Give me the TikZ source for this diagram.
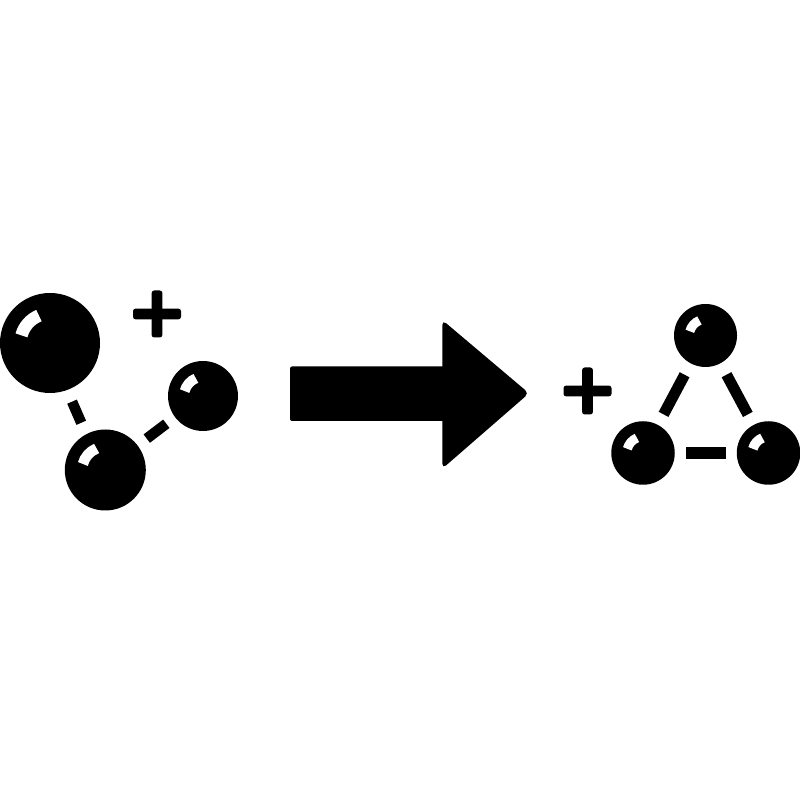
\documentclass[tikz,border=0pt]{standalone}
\usepackage{tikz}
\usetikzlibrary{arrows.meta}

\begin{document}
\begin{tikzpicture}[bond/.style={line width=1.05mm,black},plusbar/.style={rectangle,fill=black,rounded corners=0.025cm,inner sep=0,outer sep=0}]
            \tikzstyle{ball}=[circle,fill=black,inner sep=0,outer sep=0]
            \tikzstyle{glint}=[white,line cap=butt]
            \useasboundingbox (0,0) rectangle (8,8);
            % molecule on the left
            \node(big)[ball,minimum size=1cm] at (0.50,4.57){};
            \node(mid)[ball,minimum size=0.81cm] at (1.053,3.30){};
            \node(small)[ball,minimum size=0.70cm] at (2.03,4.04){};
            \draw[bond,transform canvas={xshift=-0.035cm},shorten <=0.14cm,shorten >=0.11cm] (big) -- (mid);
            \draw[bond,shorten <=0.115cm,shorten >=0.11cm] (mid) -- (small);
            % molecule on the right
            \node(top)[ball,minimum size=0.63cm] at (7.055,4.645){};
            \node(left)[ball,minimum size=0.635cm] at (6.43,3.47){};
            \node(right)[ball,minimum size=0.635cm] at (7.685,3.47){};
            \draw[bond,line width=1.1mm,shorten <=0.13cm,shorten >=0.12cm] (top) -- (left);
            \draw[bond,line width=1.1mm,shorten <=0.13cm,shorten >=0.12cm] (top) -- (right);
            \draw[bond,line width=1.15mm,shorten <=0.113cm,shorten >=0.11cm] (left) -- (right);
            % highlights
            \foreach \ballname/\rad/\wid in {big/0.295/1.25,mid/0.232/1.05,small/0.19/1.0,top/0.162/0.92,left/0.162/0.92,right/0.162/0.97}
              \draw[glint,line width=\wid mm] ([shift={(165:\rad cm)}]\ballname.center) arc[start angle=165,end angle=112,radius=\rad cm];
            % plus signs
            \foreach \plusname/\pos in {pa/{(1.57,4.86)},pb/{(5.875,4.09)}}{
              \node(\plusname h)[plusbar,minimum width=0.48cm,minimum height=0.107cm] at \pos{};
              \node(\plusname v)[plusbar,minimum width=0.107cm,minimum height=0.47cm] at \pos{};
            }
            % reaction arrow
            \fill[black,rounded corners=0.02cm] (2.90,3.79) rectangle (4.60,4.335);
            \fill[black,rounded corners=0.05cm] (4.423,4.80) -- (5.29,4.067) -- (4.423,3.313) -- cycle;
          \end{tikzpicture}
\end{document}
